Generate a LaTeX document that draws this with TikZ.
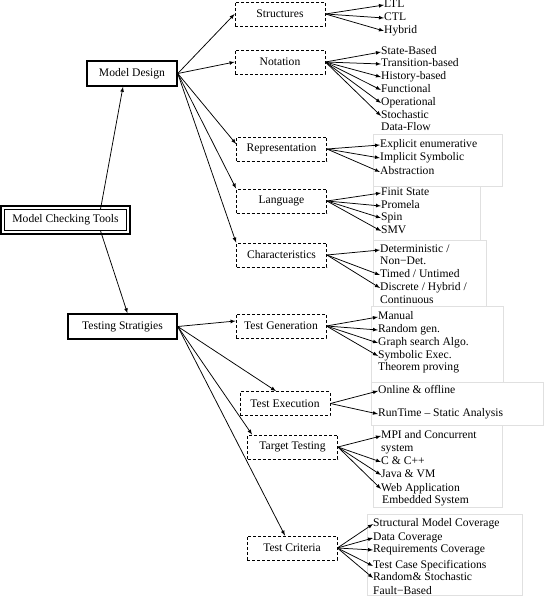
\documentclass[tikz,border=0pt]{standalone}
\usepackage{fontspec}
\setmainfont{Liberation Serif}
\usepackage{tikz}

\begin{document}
\begin{tikzpicture}[x=1pt,y=-1pt,
  font=\fontsize{11.6}{13}\selectfont,
  arr/.style={-latex, line width=0.75pt},
  mainbox/.style={draw, line width=1.5pt, minimum height=25pt, inner sep=0pt},
  subbox/.style={draw, dash pattern=on 3pt off 2pt, line width=0.8pt, minimum width=90pt, minimum height=24pt, inner sep=0pt},
  leaf/.style={anchor=west, inner sep=0pt, text height=8pt, text depth=2.5pt},
  grpbox/.style={draw=black!12, fill=white, line width=0.8pt}]
  \useasboundingbox (0,0) rectangle (544,605);

  % light frames round the lists
  \draw[grpbox] (373,134) rectangle (502,186);
  \draw[grpbox] (373,186) rectangle (480,240);
  \draw[grpbox] (373,240) rectangle (486,306);
  \draw[grpbox] (371,306) rectangle (503,382);
  \draw[grpbox] (371,382) rectangle (543,425);
  \draw[grpbox] (373,425) rectangle (502,507);
  \draw[grpbox] (367,514) rectangle (522,595);

  \node[draw, line width=0.6pt, minimum width=122pt, minimum height=21pt, inner sep=0pt] (mct) at (65.5,220) {Model Checking Tools};
  \draw[line width=2.5pt] ([shift={(-3pt,3pt)}]mct.north west) rectangle ([shift={(3pt,-3pt)}]mct.south east);

  \node[mainbox, minimum width=90pt] (md) at (132,73.5) {Model Design};
  \node[mainbox, minimum width=109pt] (ts) at (122.5,326.5) {Testing Stratigies};

  \node[subbox] (st) at (280,14) {Structures};
  \node[subbox] (no) at (280,62) {Notation};
  \node[subbox] (re) at (281.5,149) {Representation};
  \node[subbox] (la) at (281.5,201) {Language};
  \node[subbox] (ch) at (281.5,255) {Characteristics};
  \node[subbox] (tg) at (281,326) {Test Generation};
  \node[subbox] (te) at (285,403.5) {Test Execution};
  \node[subbox] (tt) at (292.5,447) {Target Testing};
  \node[subbox] (tc) at (292,548) {Test Criteria};

  \draw[arr] ([xshift=35pt]mct.north) -- ([xshift=-9pt]md.south);
  \draw[arr] ([xshift=35pt]mct.south) -- ([xshift=5pt]ts.north);

  \draw[arr] (md.east) -- (st.west);
  \draw[arr] (md.east) -- (no.west);
  \draw[arr] (md.east) -- ([yshift=5pt]re.west);
  \draw[arr] (md.east) -- (la.north west);
  \draw[arr] (md.east) -- (ch.north west);

  \draw[arr] (ts.east) -- ([yshift=5pt]tg.west);
  \draw[arr] (ts.east) -- ([xshift=-9pt]te.north);
  \draw[arr] (ts.east) -- ([xshift=5pt]tt.north west);
  \draw[arr] (ts.east) -- ([xshift=-7pt]tc.north);

  % Structures
  \node[leaf] (st1) at (384,5) {LTL};
  \node[leaf] (st2) at (384,18) {CTL};
  \node[leaf] (st3) at (384,31) {Hybrid};
  \foreach \i in {1,2,3} \draw[arr] (st.east) -- (st\i.west);

  % Notation
  \node[leaf] (no1) at (381,52) {State-Based};
  \node[leaf] (no2) at (381,64) {Transition-based};
  \node[leaf] (no3) at (381,77) {History-based};
  \node[leaf] (no4) at (381,90) {Functional};
  \node[leaf] (no5) at (381,103) {Operational};
  \node[leaf] (no6) at (381,116) {Stochastic};
  \node[leaf] (no7) at (381,128) {Data-Flow};
  \foreach \i in {1,...,6} \draw[arr] (no.east) -- (no\i.west);

  % Representation
  \node[leaf] (re1) at (380,145) {Explicit enumerative};
  \node[leaf] (re2) at (380,158) {Implicit Symbolic};
  \node[leaf] (re3) at (380,172) {Abstraction};
  \foreach \i in {1,2,3} \draw[arr] (re.east) -- (re\i.west);

  % Language
  \node[leaf] (la1) at (381,193) {Finit State};
  \node[leaf] (la2) at (381,206) {Promela};
  \node[leaf] (la3) at (381,218) {Spin};
  \node[leaf] (la4) at (381,231) {SMV};
  \foreach \i in {1,...,4} \draw[arr] (la.east) -- (la\i.west);

  % Characteristics
  \node[leaf] (ch1) at (380,250) {Deterministic /};
  \node[leaf] (ch2) at (380,262) {Non\textminus Det.};
  \node[leaf] (ch3) at (380,275) {Timed / Untimed};
  \node[leaf] (ch4) at (380,288) {Discrete / Hybrid /};
  \node[leaf] (ch5) at (380,301) {Continuous};
  \foreach \i in {1,3,4} \draw[arr] (ch.east) -- (ch\i.west);

  % Test Generation
  \node[leaf] (tg1) at (378,317) {Manual};
  \node[leaf] (tg2) at (378,330) {Random gen.};
  \node[leaf] (tg3) at (378,343) {Graph search Algo.};
  \node[leaf] (tg4) at (378,356) {Symbolic Exec.};
  \node[leaf] (tg5) at (378,368) {Theorem proving};
  \foreach \i in {1,...,4} \draw[arr] (tg.east) -- (tg\i.west);

  % Test Execution
  \node[leaf] (te1) at (378,391) {Online \& offline};
  \node[leaf] (te2) at (378,414) {RunTime -- Static Analysis};
  \foreach \i in {1,2} \draw[arr] (te.east) -- (te\i.west);

  % Target Testing
  \node[leaf] (tt1) at (381,436) {MPI and Concurrent};
  \node[leaf] (tt2) at (381,449) {system};
  \node[leaf] (tt3) at (381,462) {C \& C++};
  \node[leaf] (tt4) at (381,475) {Java \& VM};
  \node[leaf] (tt5) at (381,489) {Web Application};
  \node[leaf] (tt6) at (382,501) {Embedded System};
  \foreach \i in {1,3,4,5} \draw[arr] (tt.east) -- (tt\i.west);

  % Test Criteria
  \node[leaf] (tc1) at (373,524) {Structural Model Coverage};
  \node[leaf] (tc2) at (373,538) {Data Coverage};
  \node[leaf] (tc3) at (373,550) {Requirements Coverage};
  \node[leaf] (tc4) at (373,566) {Test Case Specifications};
  \node[leaf] (tc5) at (373,578) {Random\& Stochastic};
  \node[leaf] (tc6) at (373,592) {Fault\textminus Based};
  \foreach \i in {1,...,5} \draw[arr] (tc.east) -- (tc\i.west);
\end{tikzpicture}
\end{document}
